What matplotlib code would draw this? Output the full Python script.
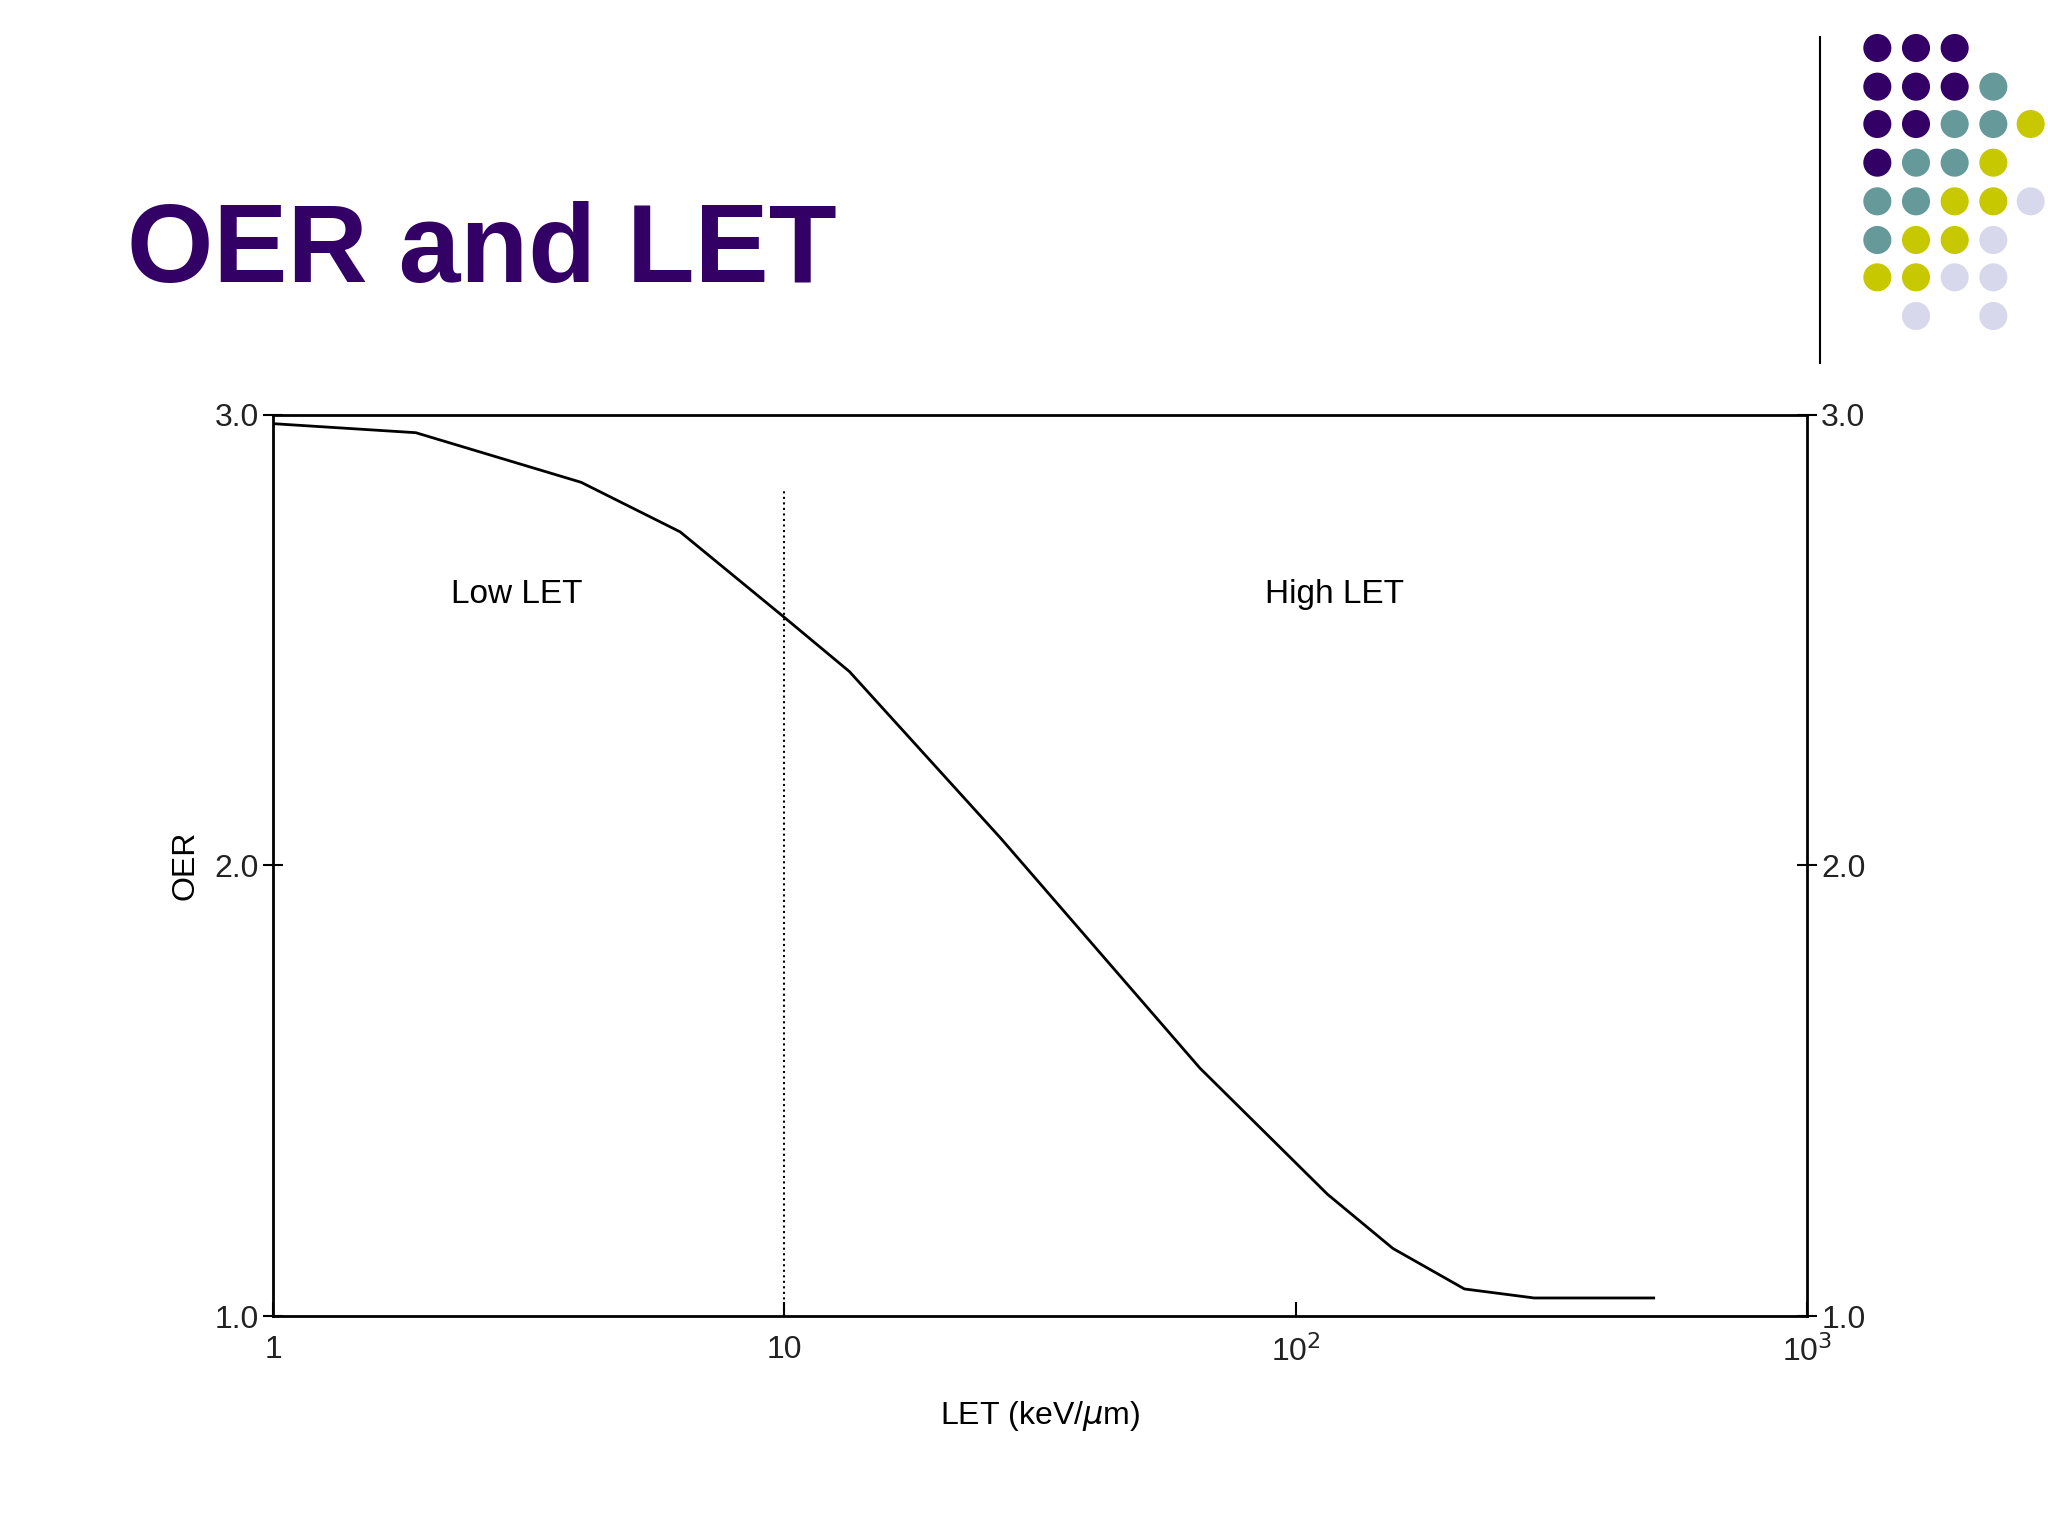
import matplotlib
matplotlib.use("Agg")
import matplotlib.pyplot as plt
import numpy as np

plt.rcParams['font.family'] = ['Liberation Sans', 'DejaVu Sans']

let = [1, 1.9, 4.0, 6.25, 10, 13.4, 26.5, 65, 115.5, 155, 214, 293, 502]
oer = [2.98, 2.96, 2.85, 2.74, 2.55, 2.43, 2.06, 1.55, 1.27, 1.15, 1.06, 1.04, 1.04]
xticks = [1, 10, 100, 1000]
xticklabels = ['1', '10', '10$^2$', '10$^3$']
yticks = [1.0, 2.0, 3.0]
yticklabels = ['1.0', '2.0', '3.0']

W, H = 1536, 1152
fig = plt.figure(figsize=(20.48, 15.36), dpi=100)

fig.text(95/W, 1-190/H, 'OER and LET', fontsize=80, fontweight='bold', color='#330066', va='center', ha='left')

# decoration
P, T, Y, L = '#330066', '#669999', '#c8c800', '#d8d8ec'
rows = [[P, P, P], [P, P, P, T], [P, P, T, T, Y], [P, T, T, Y], [T, T, Y, Y, L], [T, Y, Y, L], [Y, Y, L, L], [None, L, None, L]]
colx = [1408, 1437, 1466, 1495, 1523]
rowy = [36, 65, 93, 122, 151, 180, 208, 237]
deco = fig.add_axes([0, 0, 1, 1])
deco.set_xlim(0, W); deco.set_ylim(H, 0); deco.axis('off')
for r, row in enumerate(rows):
    for c, col in enumerate(row):
        if col:
            deco.add_patch(plt.Circle((colx[c], rowy[r]), 10, color=col))
deco.plot([1365, 1365], [28, 272], color='black', lw=1.5)

ax = fig.add_axes([205/W, 1-987/H, 1150/W, 676/H])
ax.plot(let, oer, color='black', lw=2)
ax.plot([10, 10], [1.0, 2.83], color='black', lw=1.5, ls=':')
ax.set_xscale('log')
ax.set_xlim(1, 1000)
ax.set_ylim(1.0, 3.0)
ax.set_xticks(xticks)
ax.set_xticklabels(xticklabels, fontsize=23, color='#222222')
ax.minorticks_off()
ax.set_yticks(yticks)
ax.set_yticklabels(yticklabels, fontsize=23, color='#222222')
ax.tick_params(axis='x', direction='in', length=10, width=1.5, pad=14)
ax.tick_params(axis='y', direction='inout', length=14, width=1.5, right=True, labelright=True)
for s in ax.spines.values():
    s.set_linewidth(2)
ax.set_xlabel('LET (keV/$\\mu$m)', fontsize=23, labelpad=22)
ax.set_ylabel('OER', fontsize=23, labelpad=10)
ax.text(2.99, 2.60, 'Low LET', fontsize=24, ha='center', va='center')
ax.text(119, 2.60, 'High LET', fontsize=24, ha='center', va='center')

fig.savefig('out.png', dpi=100)
